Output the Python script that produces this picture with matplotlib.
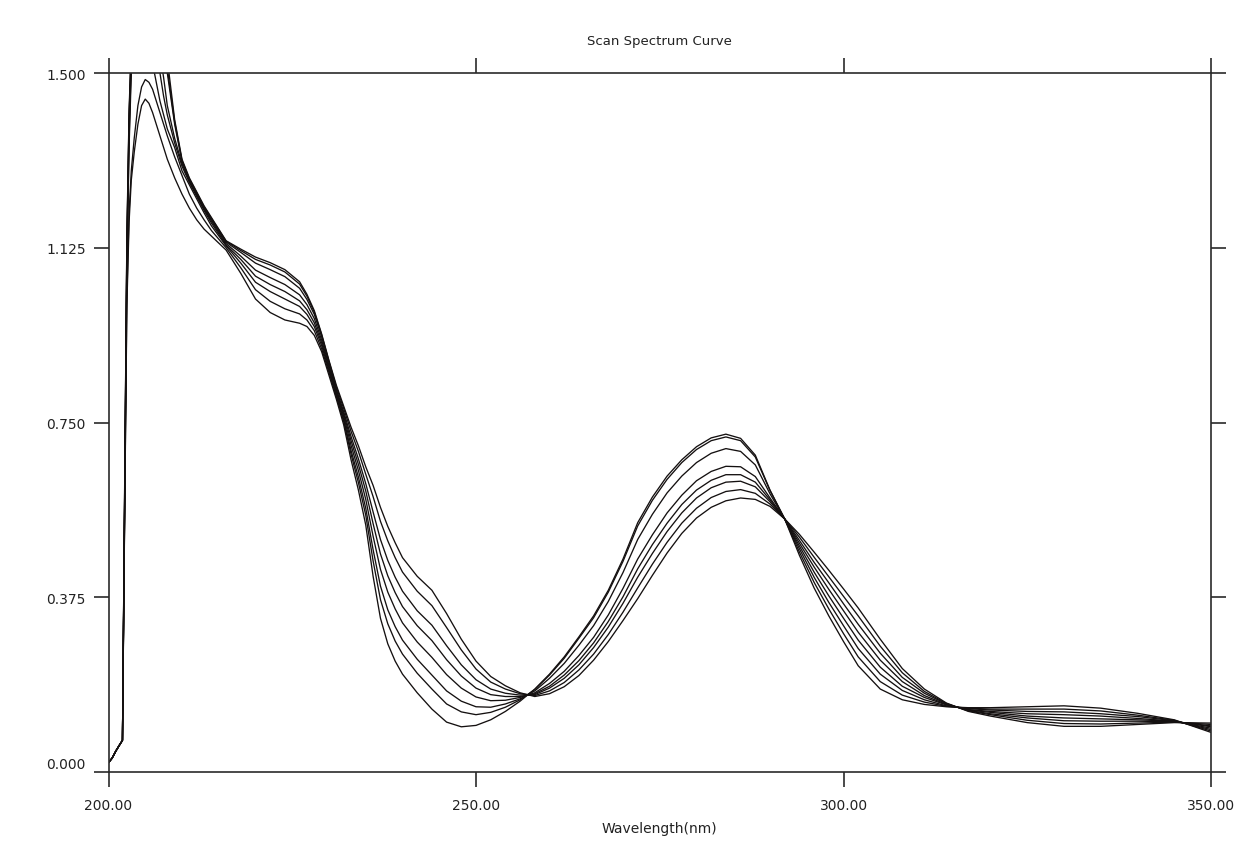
import matplotlib
matplotlib.use("Agg")
import matplotlib.pyplot as plt
from matplotlib.transforms import ScaledTranslation

# Wavelength grid (nm)
wavelength = [200, 200.5, 201, 201.5, 201.9, 202.2, 202.5, 202.8, 203.1, 203.5, 204, 204.5, 205, 205.5, 206, 206.5, 207, 207.5, 208, 209, 210,
              211, 212, 213, 214, 216, 218, 220, 222, 224, 226, 227, 228, 229, 230,
              231, 232, 233, 234, 235, 236, 237, 238, 239, 240, 242, 244, 246, 248, 250, 252, 254, 256,
              258, 260, 262, 264, 266, 268, 270, 272, 274, 276, 278, 280, 282, 284, 286, 288, 290, 292,
              294, 296, 298, 300, 302, 305, 308, 311, 314, 317, 320, 325, 330, 335, 340, 345, 350]

start = [0.02, 0.03, 0.045, 0.058, 0.068]

scan1 = start + [0.62, 1.15, 1.42, 1.56, 1.64, 1.70, 1.74, 1.75, 1.74, 1.71, 1.67, 1.62, 1.575, 1.53, 1.40, 1.315,
                 1.275, 1.245, 1.215, 1.19, 1.14, 1.122, 1.105, 1.093, 1.078, 1.052, 1.025, 0.99, 0.94, 0.883,
                 0.83, 0.785, 0.74, 0.70, 0.655, 0.615, 0.568, 0.527, 0.492, 0.46, 0.42, 0.39, 0.34, 0.285, 0.238, 0.205, 0.185, 0.17,
                 0.162, 0.168, 0.183, 0.207, 0.24, 0.28, 0.325, 0.372, 0.422, 0.47, 0.512, 0.545, 0.568, 0.582, 0.588, 0.585, 0.57, 0.543,
                 0.51, 0.472, 0.433, 0.393, 0.352, 0.285, 0.222, 0.178, 0.148, 0.13, 0.12, 0.106, 0.098, 0.098, 0.102, 0.106, 0.105]

scan2 = start + [0.61, 1.14, 1.41, 1.55, 1.63, 1.69, 1.72, 1.73, 1.72, 1.69, 1.645, 1.60, 1.555, 1.51, 1.395, 1.312,
                 1.273, 1.243, 1.213, 1.188, 1.139, 1.119, 1.100, 1.088, 1.073, 1.047, 1.021, 0.987, 0.938, 0.881,
                 0.826, 0.78, 0.731, 0.688, 0.639, 0.591, 0.538, 0.496, 0.46, 0.429, 0.388, 0.357, 0.31, 0.262, 0.221, 0.193, 0.178, 0.168,
                 0.164, 0.174, 0.192, 0.219, 0.253, 0.295, 0.343, 0.395, 0.446, 0.493, 0.534, 0.566, 0.589, 0.602, 0.606, 0.598, 0.575, 0.543,
                 0.504, 0.461, 0.419, 0.377, 0.335, 0.27, 0.213, 0.173, 0.147, 0.131, 0.123, 0.111, 0.104, 0.103, 0.105, 0.107, 0.102]

scan3 = start + [0.60, 1.13, 1.40, 1.55, 1.62, 1.68, 1.71, 1.72, 1.71, 1.68, 1.64, 1.59, 1.545, 1.50, 1.39, 1.31,
                 1.27, 1.24, 1.21, 1.185, 1.137, 1.115, 1.092, 1.078, 1.063, 1.038, 1.014, 0.982, 0.934, 0.878,
                 0.821, 0.773, 0.72, 0.672, 0.619, 0.558, 0.499, 0.454, 0.418, 0.388, 0.346, 0.315, 0.271, 0.23, 0.198, 0.178, 0.169, 0.165,
                 0.166, 0.18, 0.201, 0.23, 0.267, 0.311, 0.362, 0.418, 0.469, 0.516, 0.556, 0.588, 0.61, 0.622, 0.624, 0.612, 0.58, 0.543,
                 0.497, 0.45, 0.406, 0.361, 0.317, 0.255, 0.203, 0.169, 0.146, 0.132, 0.125, 0.116, 0.11, 0.109, 0.109, 0.108, 0.099]

scan4 = start + [0.59, 1.12, 1.38, 1.53, 1.59, 1.64, 1.66, 1.665, 1.65, 1.62, 1.58, 1.54, 1.49, 1.43, 1.36, 1.305,
                 1.268, 1.238, 1.208, 1.182, 1.134, 1.107, 1.077, 1.061, 1.046, 1.024, 1.003, 0.973, 0.927, 0.872,
                 0.817, 0.768, 0.711, 0.66, 0.603, 0.533, 0.468, 0.421, 0.385, 0.355, 0.314, 0.282, 0.241, 0.206, 0.18, 0.166, 0.162, 0.162,
                 0.168, 0.184, 0.208, 0.239, 0.277, 0.323, 0.376, 0.436, 0.488, 0.534, 0.574, 0.605, 0.626, 0.638, 0.638, 0.622, 0.584, 0.543,
                 0.491, 0.44, 0.392, 0.346, 0.3, 0.24, 0.194, 0.164, 0.145, 0.133, 0.128, 0.12, 0.116, 0.114, 0.112, 0.109, 0.097]

scan5 = start + [0.58, 1.10, 1.36, 1.52, 1.57, 1.61, 1.63, 1.63, 1.61, 1.58, 1.54, 1.50, 1.45, 1.41, 1.35, 1.30,
                 1.265, 1.235, 1.205, 1.178, 1.131, 1.10, 1.064, 1.046, 1.031, 1.011, 0.992, 0.964, 0.921, 0.867,
                 0.813, 0.763, 0.701, 0.647, 0.585, 0.506, 0.435, 0.386, 0.35, 0.32, 0.279, 0.246, 0.209, 0.18, 0.161, 0.153, 0.154, 0.16,
                 0.17, 0.19, 0.216, 0.25, 0.289, 0.337, 0.394, 0.457, 0.509, 0.556, 0.594, 0.625, 0.645, 0.656, 0.655, 0.634, 0.588, 0.543,
                 0.485, 0.429, 0.378, 0.33, 0.283, 0.225, 0.184, 0.16, 0.144, 0.134, 0.13, 0.125, 0.123, 0.12, 0.115, 0.109, 0.094]

scan6 = start + [0.57, 1.08, 1.34, 1.50, 1.54, 1.565, 1.575, 1.57, 1.55, 1.52, 1.48, 1.44, 1.41, 1.38, 1.34, 1.29,
                 1.26, 1.23, 1.2, 1.172, 1.129, 1.092, 1.051, 1.031, 1.015, 0.999, 0.982, 0.956, 0.915, 0.862,
                 0.809, 0.757, 0.69, 0.633, 0.566, 0.477, 0.399, 0.348, 0.312, 0.283, 0.242, 0.208, 0.174, 0.152, 0.14, 0.139, 0.146, 0.157,
                 0.174, 0.201, 0.233, 0.272, 0.314, 0.366, 0.428, 0.499, 0.553, 0.599, 0.635, 0.664, 0.684, 0.694, 0.688, 0.659, 0.597, 0.543,
                 0.479, 0.418, 0.364, 0.314, 0.265, 0.21, 0.175, 0.155, 0.142, 0.136, 0.133, 0.13, 0.129, 0.125, 0.119, 0.11, 0.091]

scan7 = start + [0.56, 1.02, 1.20, 1.29, 1.36, 1.43, 1.47, 1.486, 1.48, 1.465, 1.44, 1.415, 1.39, 1.365, 1.32, 1.28,
                 1.24, 1.21, 1.185, 1.162, 1.125, 1.082, 1.035, 1.01, 0.994, 0.983, 0.97, 0.947, 0.908, 0.857,
                 0.805, 0.752, 0.682, 0.621, 0.551, 0.453, 0.37, 0.318, 0.281, 0.253, 0.212, 0.178, 0.146, 0.129, 0.123, 0.128, 0.139, 0.155,
                 0.177, 0.208, 0.244, 0.287, 0.331, 0.386, 0.452, 0.528, 0.583, 0.628, 0.664, 0.692, 0.711, 0.719, 0.711, 0.676, 0.604, 0.543,
                 0.472, 0.407, 0.35, 0.297, 0.247, 0.194, 0.165, 0.15, 0.141, 0.137, 0.135, 0.135, 0.135, 0.131, 0.122, 0.111, 0.088]

scan8 = start + [0.55, 1.0, 1.18, 1.27, 1.33, 1.39, 1.43, 1.444, 1.435, 1.415, 1.39, 1.365, 1.34, 1.315, 1.275, 1.24,
                 1.21, 1.185, 1.165, 1.15, 1.12, 1.07, 1.015, 0.986, 0.97, 0.963, 0.956, 0.937, 0.902, 0.851,
                 0.80, 0.745, 0.67, 0.605, 0.53, 0.42, 0.33, 0.275, 0.238, 0.21, 0.17, 0.135, 0.107, 0.097, 0.10, 0.112, 0.13, 0.152,
                 0.178, 0.21, 0.247, 0.29, 0.335, 0.39, 0.457, 0.535, 0.59, 0.635, 0.67, 0.698, 0.717, 0.725, 0.716, 0.68, 0.605, 0.543,
                 0.465, 0.395, 0.335, 0.28, 0.228, 0.178, 0.155, 0.145, 0.14, 0.138, 0.138, 0.14, 0.142, 0.137, 0.126, 0.112, 0.085]

scans = [scan1, scan2, scan3, scan4, scan5, scan6, scan7, scan8]

x_ticks = [200, 250, 300, 350]
x_tick_labels = ["200.00", "250.00", "300.00", "350.00"]
y_ticks = [0.0, 0.375, 0.75, 1.125, 1.5]
y_tick_labels = ["0.000", "0.375", "0.750", "1.125", "1.500"]

title = "Scan Spectrum Curve"
x_label = "Wavelength(nm)"

plt.rcParams['font.family'] = ['DejaVu Sans']

W, H = 1251, 845
fig = plt.figure(figsize=(W / 100, H / 100), dpi=100)
fig.patch.set_facecolor('white')

ax_left, ax_right = 108.5 / W, 1211 / W
ax_top, ax_bottom = 1 - 74 / H, 1 - 773 / H
ax = fig.add_axes([ax_left, ax_bottom, ax_right - ax_left, ax_top - ax_bottom])

for s in scans:
    ax.plot(wavelength, s, color='#141010', lw=0.95)

ax.set_xlim(200, 350)
ax.set_ylim(0, 1.5)

for sp in ax.spines.values():
    sp.set_color('#2a2a2a')
    sp.set_linewidth(1.2)

ax.set_xticks(x_ticks)
ax.set_xticklabels(x_tick_labels)
ax.set_yticks(y_ticks)
ax.set_yticklabels(y_tick_labels)
ax.tick_params(axis='both', which='major', direction='out', length=11, width=1.2,
               color='#2a2a2a', top=True, right=True, labeltop=False, labelright=False,
               labelsize=10, labelcolor='#222222')
ax.tick_params(axis='y', pad=5.5)
ax.tick_params(axis='x', pad=7.5)

# the 0.000 label sits a bit above its tick, as in the original
lbl0 = ax.get_yticklabels()[0]
lbl0.set_transform(lbl0.get_transform() + ScaledTranslation(0, 0.095, fig.dpi_scale_trans))

fig.text((108.5 + 1211) / 2 / W, 1 - 42 / H, title, ha='center', va='center', fontsize=9.5, color='#222222')
fig.text((108.5 + 1211) / 2 / W, 1 - 829 / H, x_label, ha='center', va='center', fontsize=10, color='#222222')

fig.savefig('out.png', dpi=100, facecolor='white')
